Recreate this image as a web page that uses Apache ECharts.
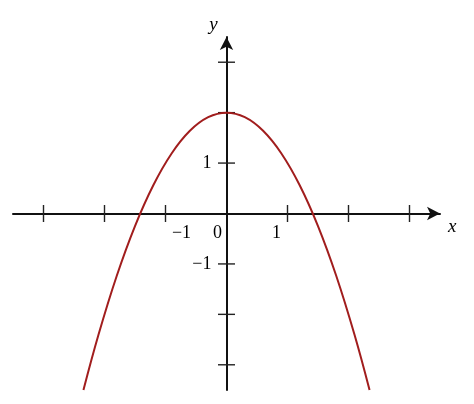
<!DOCTYPE html>
<html>
<head>
<meta charset="utf-8">
<script src="https://cdn.jsdelivr.net/npm/echarts@6/dist/echarts.min.js"></script>
<style>
  html, body { margin: 0; padding: 0; background: #fff; }
  #chart { width: 474px; height: 404px; }
</style>
</head>
<body>
<div id="chart"></div>
<script>
// curve y = 2 - x^2
var curveX = [-2.345, -2.1, -1.8, -1.5, -1.2, -0.9, -0.6, -0.3, 0, 0.3, 0.6, 0.9, 1.2, 1.5, 1.8, 2.1, 2.345];
var curveY = [-3.5, -2.41, -1.24, -0.25, 0.56, 1.19, 1.64, 1.91, 2, 1.91, 1.64, 1.19, 0.56, -0.25, -1.24, -2.41, -3.5];

// tick marks on both axes
var xTicks = [-3, -2, -1, 1, 2, 3];
var yTicks = [-3, -2, -1, 1, 2, 3];

// labelled values
var xLabelValues = [-1, 0, 1];
var xLabelTexts = ['\u22121', '0', '1'];
var yLabelValues = [-1, 1];
var yLabelTexts = ['\u22121', '1'];

var FONT = 'Liberation Serif';
var AXIS_COLOR = '#111';
var TICK_COLOR = '#222';

// label nudges (px), as in the original drawing
var xLabelNudge = [[16, 20], [-9, 20], [-11, 20]];

var chart = echarts.init(document.getElementById('chart'), null, { renderer: 'canvas' });

var curve = curveX.map(function (x, i) { return [x, curveY[i]]; });
var xTickData = xTicks.map(function (v) { return [v, 0]; });
var yTickData = yTicks.map(function (v) { return [0, v]; });

var xLabelData = xLabelValues.map(function (v, i) {
    return {
        value: [v, 0],
        label: { formatter: xLabelTexts[i], offset: xLabelNudge[i] }
    };
});
var yLabelData = yLabelValues.map(function (v, i) {
    return { value: [0, v], label: { formatter: yLabelTexts[i] } };
});

var axisCommon = {
    type: 'value',
    min: -3.5,
    max: 3.5,
    nameLocation: 'end',
    axisLine: {
        onZero: true,
        symbol: ['none', 'arrow'],
        symbolSize: [10, 13],
        lineStyle: { color: AXIS_COLOR, width: 2 }
    },
    axisTick: { show: false },
    axisLabel: { show: false },
    splitLine: { show: false }
};

var labelText = {
    show: true,
    fontFamily: FONT,
    fontSize: 18,
    color: '#000'
};

var option = {
    backgroundColor: '#fff',
    animation: false,
    grid: {
        left: 13, top: 37, width: 427, height: 353,
        containLabel: false,
        outerBoundsMode: 'none'
    },
    xAxis: echarts.util.merge({
        name: 'x',
        nameGap: 8,
        nameTextStyle: {
            fontFamily: FONT, fontStyle: 'italic', fontSize: 19, color: '#000',
            verticalAlign: 'top',
            padding: [4, 0, 0, 0]
        }
    }, axisCommon),
    yAxis: echarts.util.merge({
        name: 'y',
        nameGap: 3,
        nameTextStyle: {
            fontFamily: FONT, fontStyle: 'italic', fontSize: 19, color: '#000',
            padding: [0, 26, 0, 0]
        }
    }, axisCommon),
    series: [
        {
            type: 'scatter',
            data: xTickData,
            symbol: 'rect',
            symbolSize: [1.4, 17],
            itemStyle: { color: TICK_COLOR, opacity: 1 },
            silent: true,
            z: 3
        },
        {
            type: 'scatter',
            data: yTickData,
            symbol: 'rect',
            symbolSize: [17, 1.4],
            itemStyle: { color: TICK_COLOR, opacity: 1 },
            silent: true,
            z: 3
        },
        {
            type: 'scatter',
            data: xLabelData,
            symbolSize: 0,
            silent: true,
            itemStyle: { opacity: 1 },
            label: echarts.util.merge({ position: 'inside' }, labelText)
        },
        {
            type: 'scatter',
            data: yLabelData,
            symbolSize: 0,
            silent: true,
            itemStyle: { opacity: 1 },
            label: echarts.util.merge({ position: 'left', distance: 15 }, labelText)
        },
        {
            type: 'line',
            data: curve,
            smooth: 0.4,
            showSymbol: false,
            symbol: 'none',
            lineStyle: { color: '#a11d1d', width: 2 },
            clip: false,
            z: 4
        }
    ]
};

chart.setOption(option);
</script>
</body>
</html>
